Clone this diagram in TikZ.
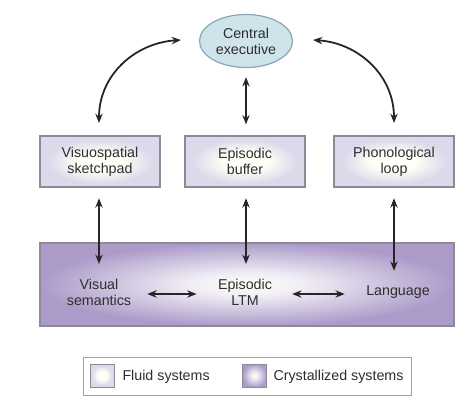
\documentclass[tikz,border=0pt]{standalone}
\usepackage{fontspec}
\setmainfont{Liberation Sans}
\usetikzlibrary{shapes.geometric,arrows.meta}

\definecolor{txtgray}{HTML}{2E2E2E}
\definecolor{cefill}{HTML}{CFE4EA}
\definecolor{celine}{HTML}{88A6B6}
\definecolor{fluidout}{HTML}{DCD9EA}
\definecolor{crystout}{HTML}{AC9BC9}
\definecolor{boxline}{HTML}{8C8A98}

% radial fades with a wider pale centre
\pgfdeclareradialshading{fluidshade}{\pgfpoint{0bp}{0bp}}{%
  color(0bp)=(white); color(9bp)=(white!96!yellow); color(22bp)=(fluidout); color(50bp)=(fluidout)}
\pgfdeclareradialshading{crystshade}{\pgfpoint{0bp}{0bp}}{%
  color(0bp)=(white!94!yellow); color(7bp)=(white!82!crystout); color(25bp)=(crystout); color(50bp)=(crystout)}

\tikzset{every picture/.style={line width=0.75pt}}
\tikzset{
  lbl/.style={text=txtgray, align=center, inner sep=0.75pt, font=\fontsize{10.7}{12}\selectfont},
  fluidbox/.style={lbl, draw=boxline, line width=0.9pt, shading=fluidshade,
    minimum width=90pt, minimum height=38.25pt},
  crystbox/.style={draw=boxline, line width=0.9pt, shading=crystshade,
    minimum width=310.5pt, minimum height=62.25pt},
  swatch/.style={draw=boxline, line width=0.6pt, minimum width=18pt, minimum height=17.25pt},
  dbl/.style={{Stealth[length=7pt,width=5.5pt]}-{Stealth[length=7pt,width=5.5pt]}, line width=1.35pt, black!85}
}

\begin{document}
\begin{tikzpicture}[x=0.75pt,y=0.75pt,yscale=-1,xscale=1]
		\useasboundingbox (0,0) rectangle (474,409);
		
		%Shape: Ellipse [central executive]
		\node (ce) [ellipse, draw=celine, line width=0.9pt, fill=cefill, lbl, minimum width=69.75pt, minimum height=39.75pt] at (246,41) {Central\\executive};
		
		%Shape: Rectangle [slave systems]
		\node (vss) [fluidbox] at (100,161.5) {Visuospatial\\sketchpad};
		\node (eb) [fluidbox] at (245,161.5) {Episodic\\buffer};
		\node (pl) [fluidbox] at (394,161.5) {Phonological\\loop};
		
		%Shape: Rectangle [long-term memory]
		\node (ltm) [crystbox] at (247,284.5) {};
		\node (vsem) [lbl] at (99,292) {Visual\\semantics};
		\node (eltm) [lbl] at (245,292) {Episodic\\LTM};
		\node (lang) [lbl] at (398,292) {Language};
		
		\coordinate (ceL) at (181,40);
		\coordinate (ceR) at (313,40);
		\coordinate (vssT) at (99,123);
		\coordinate (plT) at (394,123);
		
		\draw [dbl] (vssT) .. controls (99,75) and (135,43) .. (ceL);
		\draw [dbl] (plT) .. controls (394,75) and (358,43) .. (ceR);
		\draw [dbl, shorten <=6.75pt, shorten >=8.25pt] (ce.south) -- (ce.south |- eb.north);
		
		\draw [dbl, shorten <=8pt, shorten >=10pt] (vss.south -| vssT) -- (vsem.north -| vssT);
		\draw [dbl, shorten <=8pt, shorten >=10pt] (eb.south -| ce.south) -- (eltm.north -| ce.south);
		\draw [dbl, shorten <=8pt, shorten >=10pt] (pl.south -| plT) -- (lang.north -| plT);
		
		\draw [dbl, shorten <=11pt, shorten >=15pt] (vsem.east |- 0,294) -- (eltm.west |- 0,294);
		\draw [dbl, shorten <=14pt, shorten >=15pt] (eltm.east |- 0,294) -- (lang.west |- 0,294);
		
		%Shape: Rectangle [legend]
		\node (legend) [draw=boxline!80, line width=0.6pt, fill=white, minimum width=246pt, minimum height=28.5pt] at (247,376) {};
		\node (fsw) [swatch, shading=fluidshade] at (102,375.5) {};
		\node (csw) [swatch, shading=crystshade] at (254.5,375.5) {};
		\node (ftxt) [lbl, anchor=west] at (121,377) {Fluid systems};
		\node (ctxt) [lbl, anchor=west] at (272,377) {Crystallized systems};
		
\end{tikzpicture}
\end{document}
